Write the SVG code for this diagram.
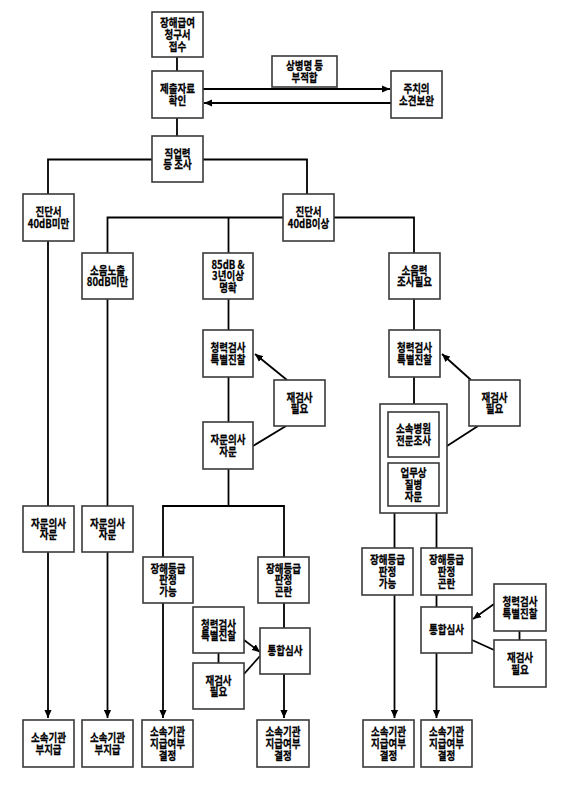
<svg xmlns="http://www.w3.org/2000/svg" width="562" height="807" viewBox="0 0 562 807">
<style>
.b{fill:#fff;stroke:#3a3a3a;stroke-width:1.6}
.t{font-family:"Noto Sans CJK KR","Noto Sans",sans-serif;font-weight:bold;font-size:11.6px;text-anchor:middle;fill:#000;stroke:#000;stroke-width:0.25}
.c{fill:none;stroke:#000;stroke-width:1.8}
</style>
<defs>
<marker id="ah" viewBox="0 0 10 10" refX="10" refY="5" markerWidth="8" markerHeight="8" markerUnits="userSpaceOnUse" orient="auto"><path d="M0,0.5 L10,5 L0,9.5 z" fill="#000"/></marker>
</defs>
<rect width="562" height="807" fill="#fff"/>
<g id="connectors">
<path class="c" d="M177,57 V71"/>
<path class="c" d="M203,89 H390" marker-end="url(#ah)"/>
<path class="c" d="M391,103 H204" marker-end="url(#ah)"/>
<path class="c" d="M177,118 V136"/>
<path class="c" d="M152,159.5 H48 V194"/>
<path class="c" d="M203,159.5 H307 V194"/>
<path class="c" d="M48,241 V506"/>
<path class="c" d="M48,552 V718" marker-end="url(#ah)"/>
<path class="c" d="M283,217.5 H107.5 V253"/>
<path class="c" d="M228.5,217.5 V253"/>
<path class="c" d="M334,217.5 H414 V253"/>
<path class="c" d="M107.5,299 V506"/>
<path class="c" d="M107.5,552 V718" marker-end="url(#ah)"/>
<path class="c" d="M228.5,299 V330"/>
<path class="c" d="M228.5,377 V422"/>
<path class="c" d="M287,380 L255,354" marker-end="url(#ah)"/>
<path class="c" d="M253,446 L286,426"/>
<path class="c" d="M228.5,469 V506"/>
<path class="c" d="M163,557 V506 H284 V557"/>
<path class="c" d="M163,603 V718" marker-end="url(#ah)"/>
<path class="c" d="M284,603 V628"/>
<path class="c" d="M218.5,653 V663"/>
<path class="c" d="M244,640 L260,652" marker-end="url(#ah)"/>
<path class="c" d="M244,674 L260,656"/>
<path class="c" d="M284,674 V718" marker-end="url(#ah)"/>
<path class="c" d="M414,299 V330"/>
<path class="c" d="M414,377 V404"/>
<path class="c" d="M471,380 L442,354" marker-end="url(#ah)"/>
<path class="c" d="M447,446 L478,426"/>
<path class="c" d="M394.5,513 V548"/>
<path class="c" d="M436.5,513 V548"/>
<path class="c" d="M394.5,595 V718" marker-end="url(#ah)"/>
<path class="c" d="M436.5,595 V607"/>
<path class="c" d="M436.5,653 V718" marker-end="url(#ah)"/>
<path class="c" d="M494,604 L473,619" marker-end="url(#ah)"/>
<path class="c" d="M472,640 L494,650"/>
<path class="c" d="M519.5,631 V640"/>
</g>
<g id="n1"><rect class="b" x="152" y="12" width="51" height="45"/><text class="t" transform="translate(177.5,27.2) scale(.82 1)"><tspan x="0">장해급여</tspan><tspan x="0" dy="11.7">청구서</tspan><tspan x="0" dy="11.7">접수</tspan></text></g>
<g id="n2"><rect class="b" x="152" y="71" width="51" height="47"/><text class="t" transform="translate(177.5,93) scale(.82 1)"><tspan x="0">제출자료</tspan><tspan x="0" dy="11.7">확인</tspan></text></g>
<g id="n3"><rect class="b" x="272" y="56" width="65" height="31"/><text class="t" transform="translate(304.5,70) scale(.82 1)"><tspan x="0">상병명 등</tspan><tspan x="0" dy="11.7">부적합</tspan></text></g>
<g id="n4"><rect class="b" x="391" y="71" width="51" height="47"/><text class="t" transform="translate(416.5,93) scale(.82 1)"><tspan x="0">주치의</tspan><tspan x="0" dy="11.7">소견보완</tspan></text></g>
<g id="n5"><rect class="b" x="152" y="136" width="51" height="46"/><text class="t" transform="translate(177.5,157.5) scale(.82 1)"><tspan x="0">직업력</tspan><tspan x="0" dy="11.7">등 조사</tspan></text></g>
<g id="n6"><rect class="b" x="23" y="194" width="51" height="47"/><text class="t" transform="translate(48.5,216) scale(.82 1)"><tspan x="0">진단서</tspan><tspan x="0" dy="11.7">40dB미만</tspan></text></g>
<g id="n7"><rect class="b" x="283" y="194" width="51" height="47"/><text class="t" transform="translate(308.5,216) scale(.82 1)"><tspan x="0">진단서</tspan><tspan x="0" dy="11.7">40dB이상</tspan></text></g>
<g id="n8"><rect class="b" x="82" y="253" width="51" height="46"/><text class="t" transform="translate(107.5,274.5) scale(.82 1)"><tspan x="0">소음노출</tspan><tspan x="0" dy="11.7">80dB미만</tspan></text></g>
<g id="n9"><rect class="b" x="203" y="253" width="50" height="46"/><text class="t" transform="translate(228,268.7) scale(.82 1)"><tspan x="0">85dB &amp;</tspan><tspan x="0" dy="11.7">3년이상</tspan><tspan x="0" dy="11.7">명확</tspan></text></g>
<g id="n10"><rect class="b" x="389" y="253" width="51" height="46"/><text class="t" transform="translate(414.5,274.5) scale(.82 1)"><tspan x="0">소음력</tspan><tspan x="0" dy="11.7">조사필요</tspan></text></g>
<g id="n11"><rect class="b" x="203" y="330" width="50" height="47"/><text class="t" transform="translate(228,352) scale(.82 1)"><tspan x="0">청력검사</tspan><tspan x="0" dy="11.7">특별진찰</tspan></text></g>
<g id="n12"><rect class="b" x="274" y="380" width="51" height="46"/><text class="t" transform="translate(299.5,401.5) scale(.82 1)"><tspan x="0">재검사</tspan><tspan x="0" dy="11.7">필요</tspan></text></g>
<g id="n13"><rect class="b" x="203" y="422" width="50" height="47"/><text class="t" transform="translate(228,444) scale(.82 1)"><tspan x="0">자문의사</tspan><tspan x="0" dy="11.7">자문</tspan></text></g>
<g id="n14"><rect class="b" x="389" y="330" width="51" height="47"/><text class="t" transform="translate(414.5,352) scale(.82 1)"><tspan x="0">청력검사</tspan><tspan x="0" dy="11.7">특별진찰</tspan></text></g>
<g id="n15"><rect class="b" x="469" y="380" width="51" height="46"/><text class="t" transform="translate(494.5,401.5) scale(.82 1)"><tspan x="0">재검사</tspan><tspan x="0" dy="11.7">필요</tspan></text></g>
<g id="n16"><rect class="b" x="380" y="404" width="67" height="109"/>
<rect class="b" x="388" y="412" width="51" height="45"/><text class="t" transform="translate(413.5,433) scale(.82 1)"><tspan x="0">소속병원</tspan><tspan x="0" dy="11.7">전문조사</tspan></text>
<rect class="b" x="388" y="463" width="51" height="43"/><text class="t" transform="translate(413.5,477.2) scale(.82 1)"><tspan x="0">업무상</tspan><tspan x="0" dy="11.7">질병</tspan><tspan x="0" dy="11.7">자문</tspan></text></g>
<g id="n17"><rect class="b" x="23" y="506" width="51" height="46"/><text class="t" transform="translate(48.5,527.5) scale(.82 1)"><tspan x="0">자문의사</tspan><tspan x="0" dy="11.7">자문</tspan></text></g>
<g id="n18"><rect class="b" x="82" y="506" width="51" height="46"/><text class="t" transform="translate(107.5,527.5) scale(.82 1)"><tspan x="0">자문의사</tspan><tspan x="0" dy="11.7">자문</tspan></text></g>
<g id="n19"><rect class="b" x="143" y="557" width="50" height="46"/><text class="t" transform="translate(168,572.7) scale(.82 1)"><tspan x="0">장해등급</tspan><tspan x="0" dy="11.7">판정</tspan><tspan x="0" dy="11.7">가능</tspan></text></g>
<g id="n20"><rect class="b" x="258" y="557" width="51" height="46"/><text class="t" transform="translate(283.5,572.7) scale(.82 1)"><tspan x="0">장해등급</tspan><tspan x="0" dy="11.7">판정</tspan><tspan x="0" dy="11.7">곤란</tspan></text></g>
<g id="n21"><rect class="b" x="193" y="607" width="51" height="46"/><text class="t" transform="translate(218.5,628.5) scale(.82 1)"><tspan x="0">청력검사</tspan><tspan x="0" dy="11.7">특별진찰</tspan></text></g>
<g id="n22"><rect class="b" x="193" y="663" width="51" height="46"/><text class="t" transform="translate(218.5,684.5) scale(.82 1)"><tspan x="0">재검사</tspan><tspan x="0" dy="11.7">필요</tspan></text></g>
<g id="n23"><rect class="b" x="260" y="628" width="50" height="46"/><text class="t" transform="translate(285,655.3) scale(.82 1)">통합심사</text></g>
<g id="n24"><rect class="b" x="362" y="548" width="51" height="47"/><text class="t" transform="translate(387.5,564.2) scale(.82 1)"><tspan x="0">장해등급</tspan><tspan x="0" dy="11.7">판정</tspan><tspan x="0" dy="11.7">가능</tspan></text></g>
<g id="n25"><rect class="b" x="421" y="548" width="51" height="47"/><text class="t" transform="translate(446.5,564.2) scale(.82 1)"><tspan x="0">장해등급</tspan><tspan x="0" dy="11.7">판정</tspan><tspan x="0" dy="11.7">곤란</tspan></text></g>
<g id="n26"><rect class="b" x="421" y="607" width="51" height="46"/><text class="t" transform="translate(446.5,634.3) scale(.82 1)">통합심사</text></g>
<g id="n27"><rect class="b" x="494" y="584" width="52" height="47"/><text class="t" transform="translate(520,606) scale(.82 1)"><tspan x="0">청력검사</tspan><tspan x="0" dy="11.7">특별진찰</tspan></text></g>
<g id="n28"><rect class="b" x="494" y="640" width="52" height="47"/><text class="t" transform="translate(520,662) scale(.82 1)"><tspan x="0">재검사</tspan><tspan x="0" dy="11.7">필요</tspan></text></g>
<g id="b1"><rect class="b" x="23" y="720" width="51" height="47"/><text class="t" transform="translate(48.5,742) scale(.82 1)"><tspan x="0">소속기관</tspan><tspan x="0" dy="11.7">부지급</tspan></text></g>
<g id="b2"><rect class="b" x="82" y="720" width="51" height="47"/><text class="t" transform="translate(107.5,742) scale(.82 1)"><tspan x="0">소속기관</tspan><tspan x="0" dy="11.7">부지급</tspan></text></g>
<g id="b3"><rect class="b" x="142" y="720" width="51" height="47"/><text class="t" transform="translate(167.5,736.2) scale(.82 1)"><tspan x="0">소속기관</tspan><tspan x="0" dy="11.7">지급여부</tspan><tspan x="0" dy="11.7">결정</tspan></text></g>
<g id="b4"><rect class="b" x="257" y="720" width="52" height="47"/><text class="t" transform="translate(283,736.2) scale(.82 1)"><tspan x="0">소속기관</tspan><tspan x="0" dy="11.7">지급여부</tspan><tspan x="0" dy="11.7">결정</tspan></text></g>
<g id="b5"><rect class="b" x="363" y="720" width="51" height="47"/><text class="t" transform="translate(388.5,736.2) scale(.82 1)"><tspan x="0">소속기관</tspan><tspan x="0" dy="11.7">지급여부</tspan><tspan x="0" dy="11.7">결정</tspan></text></g>
<g id="b6"><rect class="b" x="421" y="720" width="51" height="47"/><text class="t" transform="translate(446.5,736.2) scale(.82 1)"><tspan x="0">소속기관</tspan><tspan x="0" dy="11.7">지급여부</tspan><tspan x="0" dy="11.7">결정</tspan></text></g>
</svg>
